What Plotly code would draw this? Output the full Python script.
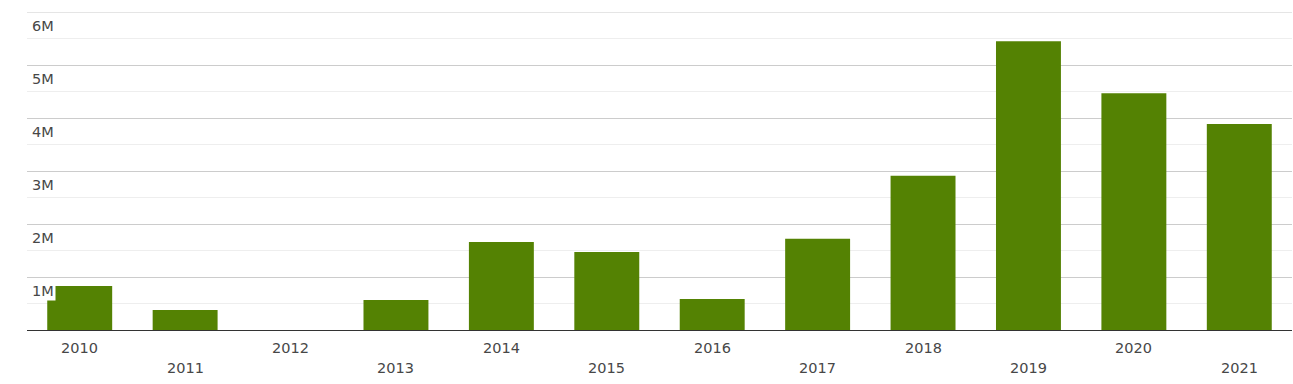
import plotly.graph_objects as go

years = ["2010", "2011", "2012", "2013", "2014", "2015", "2016", "2017", "2018", "2019", "2020", "2021"]
values = [830000, 377000, 0, 566000, 1660000, 1470000, 585000, 1720000, 2910000, 5450000, 4466000, 3887000]
y_ticks = [1000000, 2000000, 3000000, 4000000, 5000000, 6000000]
y_tick_labels = ["1M", "2M", "3M", "4M", "5M", "6M"]

BAR = "#548203"
FONT = dict(family="DejaVu Sans", size=14.5, color="#474747")

fig = go.Figure()
fig.add_trace(go.Bar(x=years, y=values, marker=dict(color=BAR, line=dict(width=0)),
                     hoverinfo="x+y"))

fig.update_layout(
    width=1293, height=384,
    margin=dict(l=27, r=1, t=12, b=54),
    paper_bgcolor="white", plot_bgcolor="white",
    bargap=0.384,
    showlegend=False,
    font=FONT,
    xaxis=dict(type="category", showticklabels=False,
               showgrid=False, ticks="", showline=True, linecolor="#333333", linewidth=1,
               zeroline=False, range=[-0.5, 11.5]),
    yaxis=dict(range=[0, 6000000], tickvals=y_ticks, showticklabels=False,
               showgrid=True, gridcolor="#cccccc", gridwidth=1, zeroline=False,
               minor=dict(dtick=500000, showgrid=True, gridcolor="#eeeeee", gridwidth=1, tick0=0),
               fixedrange=True),
)

# top gridline at 6M (plot edge)
fig.add_shape(type="line", xref="paper", x0=0, x1=1, yref="y", y0=y_ticks[-1], y1=y_ticks[-1],
              line=dict(color="#cccccc", width=1), layer="below")

for v, t in zip(y_ticks, y_tick_labels):
    fig.add_annotation(x=0, xref="paper", xanchor="left", xshift=3,
                       y=v, yref="y", yanchor="top", yshift=-4,
                       text=t, showarrow=False, font=FONT,
                       bgcolor="white", borderpad=1)

for i, yr in enumerate(years):
    fig.add_annotation(x=i, xref="x", y=0, yref="paper", yanchor="middle",
                       yshift=-18 if i % 2 == 0 else -38,
                       text=yr, showarrow=False, font=FONT)

fig.write_html("out.html")
